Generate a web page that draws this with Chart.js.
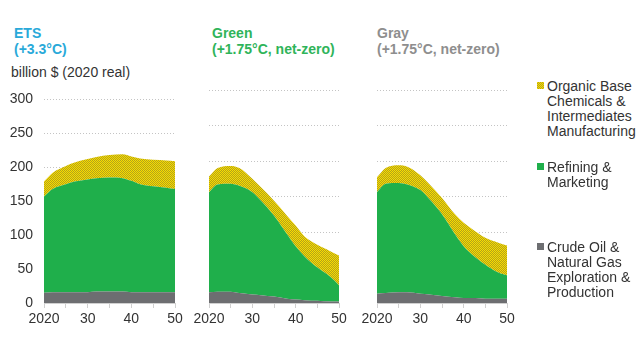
<!DOCTYPE html>
<html>
<head>
<meta charset="utf-8">
<script src="https://cdn.jsdelivr.net/npm/chart.js@4"></script>
<style>
  body { margin: 0; width: 640px; height: 359px; background: #fff; font-family: "Liberation Sans", Arial, sans-serif; position: relative; overflow: hidden; }
  .panel { position: absolute; top: 80px; width: 175px; height: 253px; }
  .title { position: absolute; top: 25px; font-size: 14px; font-weight: bold; line-height: 16px; }
  .unit { position: absolute; left: 11px; top: 64px; font-size: 14px; color: #333; }
  .leg { position: absolute; left: 547px; font-size: 14px; line-height: 15px; color: #333; }
  .mk { position: absolute; left: -10px; top: 3px; width: 7px; height: 7px; }
</style>
</head>
<body>
<div class="title" style="left:14px;color:#29a9d9">ETS<br>(+3.3°C)</div>
<div class="title" style="left:212px;color:#2fb45a">Green<br>(+1.75°C, net-zero)</div>
<div class="title" style="left:377px;color:#8e8e8e">Gray<br>(+1.75°C, net-zero)</div>
<div class="unit">billion $ (2020 real)</div>

<div class="panel" style="left:0;width:190px"><canvas id="ets"></canvas></div>
<div class="panel" style="left:185px"><canvas id="green"></canvas></div>
<div class="panel" style="left:353px"><canvas id="gray"></canvas></div>

<div class="leg" style="top:79px"><span class="mk" id="mkChem"></span>Organic Base<br>Chemicals &amp;<br>Intermediates<br>Manufacturing</div>
<div class="leg" style="top:160px"><span class="mk" style="background:#1faf4b"></span>Refining &amp;<br>Marketing</div>
<div class="leg" style="top:240px"><span class="mk" style="background:#6d6e71"></span>Crude Oil &amp;<br>Natural Gas<br>Exploration &amp;<br>Production</div>

<script>
const years = [2020, 2022, 2025, 2027, 2030, 2032, 2035, 2038, 2040, 2042, 2045, 2048, 2050];
const yTicks = [0, 50, 100, 150, 200, 250, 300];

// ETS (+3.3°C)
const etsCrude    = [15, 16, 16, 16, 16, 17, 17, 17, 16, 16, 16, 16, 16];
const etsRefining = [142, 152, 159, 163, 166, 167, 168, 167, 164, 159, 156, 154, 152];
const etsChem     = [22, 24, 27, 28, 30, 31, 33, 35, 36, 38, 39, 40, 41];

// Green (+1.75°C, net-zero)
const greenCrude    = [15, 16, 16, 14, 12, 11, 9, 6, 5, 4, 3, 2, 2];
const greenRefining = [141, 151, 152, 151, 144, 133, 114, 91, 75, 62, 47, 35, 23];
const greenChem     = [22, 23, 25, 25, 19, 19, 21, 26, 29, 28, 32, 36, 42];

// Gray (+1.75°C, net-zero)
const grayCrude    = [13, 14, 15, 15, 13, 12, 10, 8, 7, 7, 6, 6, 6];
const grayRefining = [143, 154, 154, 152, 146, 135, 115, 89, 73, 61, 48, 37, 33];
const grayChem     = [21, 22, 25, 25, 21, 21, 23, 28, 33, 36, 38, 42, 42];

// checkered yellow fill
function makePattern() {
    const c = document.createElement('canvas');
    c.width = 2; c.height = 2;
    const g = c.getContext('2d');
    g.fillStyle = '#f8dc00';
    g.fillRect(0, 0, 2, 2);
    g.fillStyle = '#b3a21a';
    g.fillRect(0, 0, 1, 1);
    g.fillRect(1, 1, 1, 1);
    return g.createPattern(c, 'repeat');
}
const chemFill = makePattern();
document.getElementById('mkChem').style.background = 'repeating-conic-gradient(#b3a21a 0 25%, #f8dc00 0 50%) 0 0 / 2px 2px';

const pts = arr => arr.map((v, i) => ({ x: years[i], y: v }));

function panel(id, crude, refining, chem, showY) {
    new Chart(document.getElementById(id), {
        type: 'line',
        data: {
            datasets: [
                { data: pts(crude), backgroundColor: '#6d6e71', fill: 'origin' },
                { data: pts(refining), backgroundColor: '#1faf4b', fill: '-1' },
                { data: pts(chem), backgroundColor: chemFill, fill: '-1' }
            ]
        },
        options: {
            responsive: true,
            maintainAspectRatio: false,
            animation: false,
            layout: { padding: showY ? { top: 10, right: 15, left: 0 } : { top: 10, left: 24, right: 21 } },
            elements: {
                line: { borderWidth: 0, tension: 0.4, cubicInterpolationMode: 'monotone' },
                point: { radius: 0 }
            },
            plugins: { legend: { display: false }, tooltip: { enabled: false } },
            scales: {
                x: {
                    type: 'linear',
                    min: 2020, max: 2050,
                    border: { color: '#d0d0d0' },
                    grid: { drawOnChartArea: false, drawTicks: true, tickLength: 5, color: '#d0d0d0' },
                    ticks: {
                        stepSize: 5,
                        padding: 3,
                        maxRotation: 0,
                        autoSkip: false,
                        color: '#333',
                        font: { family: 'Liberation Sans', size: 14 },
                        callback: v => v === 2020 ? '2020' : (v % 10 === 0 ? String(v % 100) : '')
                    },
                    afterFit: s => { s.height = 30; }
                },
                y: {
                    stacked: true,
                    min: 0, max: 300,
                    border: { display: false, dash: [1, 2] },
                    grid: { color: '#c4c4c4', lineWidth: 1, drawTicks: false },
                    afterBuildTicks: s => { s.ticks = yTicks.map(v => ({ value: v })); },
                    ticks: {
                        display: showY,
                        padding: 11,
                        color: '#333',
                        font: { family: 'Liberation Sans', size: 14 }
                    },
                    afterFit: s => { s.width = showY ? 44 : 0; }
                }
            }
        }
    });
}

panel('ets', etsCrude, etsRefining, etsChem, true);
panel('green', greenCrude, greenRefining, greenChem, false);
panel('gray', grayCrude, grayRefining, grayChem, false);
</script>
</body>
</html>
